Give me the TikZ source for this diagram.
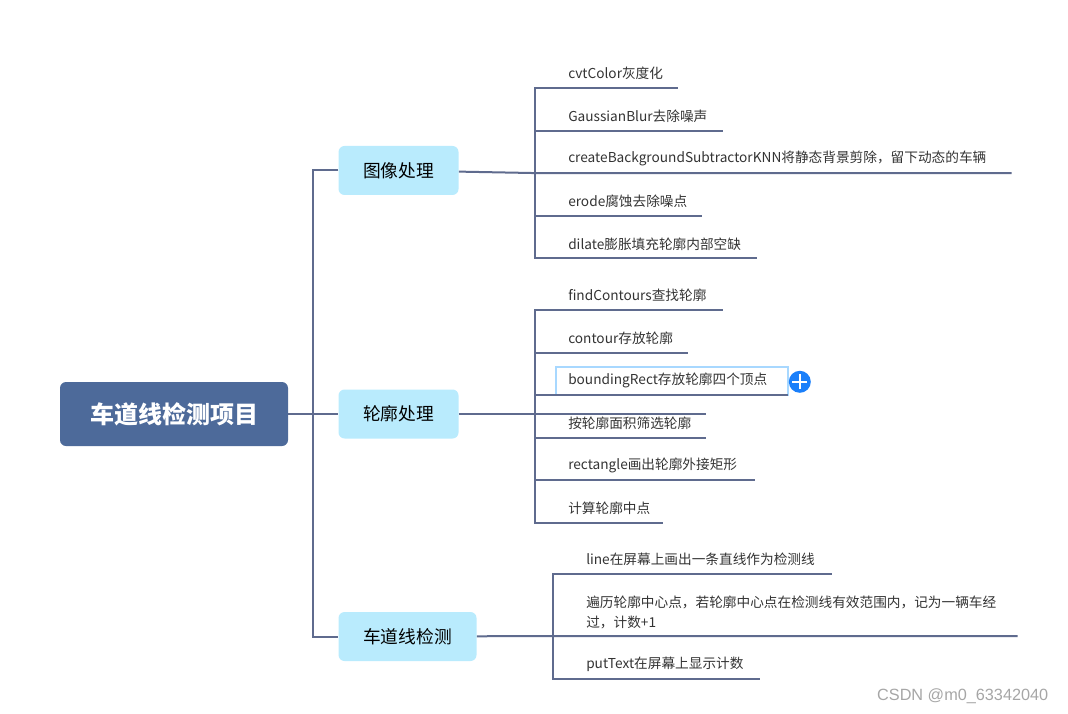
\documentclass[tikz,border=0pt]{standalone}
\usepackage{fontspec}
\setmainfont{Noto Sans CJK SC}
\newfontfamily\markfont{Liberation Sans}
\usetikzlibrary{positioning}
\definecolor{linkcol}{HTML}{5F6B8E}
\definecolor{rootcol}{HTML}{4D6A9A}
\definecolor{branchcol}{HTML}{B9EBFD}
\definecolor{leafcol}{HTML}{333333}
\definecolor{focuscol}{HTML}{A8D8FF}
\definecolor{pluscol}{HTML}{1A7FFA}

\begin{document}
\begin{tikzpicture}[
  x = 0.75pt, y = -0.75pt,
  root/.style = {fill=rootcol, rounded corners=4.5pt, minimum width=171pt, minimum height=48pt, inner sep=0pt, text=white, font=\fontsize{18}{22}\selectfont\bfseries},
  branch/.style = {fill=branchcol, rounded corners=4.5pt, minimum width=#1, minimum height=36.75pt, inner sep=0pt, text=black, font=\fontsize{13.3}{16}\selectfont},
  branch/.default = 90pt,
  leaf/.style = {text width=#1, inner xsep=0pt, inner ysep=0pt, minimum height=21pt, align=left, text=leafcol, font=\fontsize{10.25}{15}\selectfont, execute at begin node={\leftskip=24.75pt}},
  link/.style = {draw=linkcol, line width=1.5pt},
  hilite/.style = {draw=focuscol, line width=1.5pt}
]
\useasboundingbox (0,0) rectangle (1068,714);

% --- centre
\node[root] (project) at (174,414) {车道线检测项目};
\node[branch, right=37.5pt of project] (contour) {轮廓处理};
\node[branch, above right=145.5pt and 0pt of contour.north west] (image) {图像处理};
\node[branch=103.5pt, below right=129.75pt and 0pt of contour.south west] (lane) {车道线检测};
\draw[link] (project) -- (contour);
\draw[link] (image.west) -- ++(-25,0) |- (lane.west);

% --- image
\node[leaf=106.5pt, anchor=south west] (gray) at (535,88) {cvtColor灰度化};
\node[leaf=140.25pt, below right=10.5pt and 0pt of gray.south west] (blur) {GaussianBlur去除噪声};
\node[leaf=357pt, below right=10.5pt and 0pt of blur.south west] (knn) {createBackgroundSubtractorKNN将静态背景剪除，留下动态的车辆};
\node[leaf=124.5pt, below right=10.5pt and 0pt of knn.south west] (erode) {erode腐蚀去除噪点};
\node[leaf=165.75pt, below right=10.5pt and 0pt of erode.south west] (dilate) {dilate膨胀填充轮廓内部空缺};
\draw[link] (gray.south east) -- (gray.south west) -- (dilate.south west) -- (dilate.south east);
\draw[link] (blur.south west) -- (blur.south east);
\draw[link] (image) -- (knn.south west) -- (knn.south east);
\draw[link] (erode.south west) -- (erode.south east);

% --- contour
\node[leaf=140.25pt, anchor=south west] (find) at (535,310) {findContours查找轮廓};
\node[leaf=114pt, below right=10.5pt and 0pt of find.south west] (store) {contour存放轮廓};
\node[leaf=189pt, below right=10.5pt and 0pt of store.south west] (rect) {boundingRect存放轮廓四个顶点};
\node[leaf=127.5pt, below right=10.5pt and 0pt of rect.south west] (area) {按轮廓面积筛选轮廓};
\node[leaf=164.25pt, below right=10.5pt and 0pt of area.south west] (outer) {rectangle画出轮廓外接矩形};
\node[leaf=95.25pt, below right=10.5pt and 0pt of outer.south west] (center) {计算轮廓中点};
\draw[hilite] ([xshift=15.75pt]rect.south west) rectangle (rect.north east);
\draw[link] (find.south east) -- (find.south west) -- (center.south west) -- (center.south east);
\draw[link] (store.south west) -- (store.south east);
\draw[link] (rect.south west) -- (rect.south east);
\draw[link] (contour) -- (area.north west |- contour) -- (area.north east |- contour);
\draw[link] (area.south west) -- (area.south east);
\draw[link] (outer.south west) -- (outer.south east);
\node[circle, fill=pluscol, minimum size=16.5pt, inner sep=0pt, right=0.75pt of rect.east, yshift=-0.75pt] (plus) {};
\draw[white, line width=1.6pt] ([xshift=-5.5pt]plus.center) -- ([xshift=5.5pt]plus.center);
\draw[white, line width=1.6pt] ([yshift=-5.5pt]plus.center) -- ([yshift=5.5pt]plus.center);

% --- lane
\node[leaf=208.5pt, anchor=south west] (scan) at (553,574) {line在屏幕上画出一条直线作为检测线};
\node[leaf=348pt, anchor=south west, minimum height=34.5pt] (count) at (553,636) {遍历轮廓中心点，若轮廓中心点在检测线有效范围内，记为一辆车经\\过，计数+1};
\node[leaf=154.5pt, anchor=south west] (show) at (553,679) {putText在屏幕上显示计数};
\draw[link] (scan.south east) -- (scan.south west) -- (show.south west) -- (show.south east);
\draw[link] (lane) -- (count.south west) -- (count.south east);

\node[anchor=east, text=black!35, font=\markfont\fontsize{12.2}{14}\selectfont] (mark) at (1053,696) {CSDN @m0\_63342040};
\end{tikzpicture}
\end{document}
